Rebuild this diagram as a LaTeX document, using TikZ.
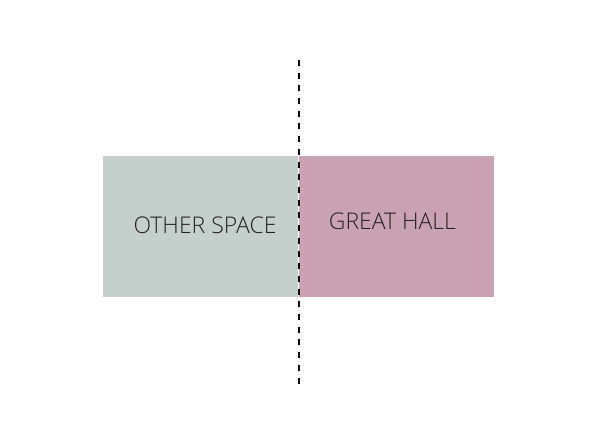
\documentclass[tikz,border=0pt]{standalone}
\usepackage{fontspec}
\setmainfont{Open Sans Light}
\definecolor{otherfill}{RGB}{197,207,204}
\definecolor{hallfill}{RGB}{203,162,179}
\definecolor{labeltext}{RGB}{35,35,35}
\begin{document}
\begin{tikzpicture}[x=1pt,y=1pt,
  space/.style={rectangle,draw=none,minimum width=195pt,minimum height=141pt,inner sep=0pt,anchor=south west},
  lbl/.style={font=\fontsize{23}{26}\selectfont,text=labeltext,inner sep=0pt},
  divider/.style={line width=2pt,dash pattern=on 6pt off 6.7pt}]
\useasboundingbox[fill=white] (0,0) rectangle (600,424);
\node[space,fill=otherfill] (other) at (103,127) {};
\node[space,fill=hallfill] (hall) at (299,127) {};
\node[lbl] (otherlbl) at (205,199) {OTHER SPACE};
\node[lbl] (halllbl) at (392.5,203) {GREAT HALL};
\coordinate (top) at (299,364);
\coordinate (bot) at (299,40);
\draw[divider] (top) -- (bot);
\end{tikzpicture}
\end{document}
